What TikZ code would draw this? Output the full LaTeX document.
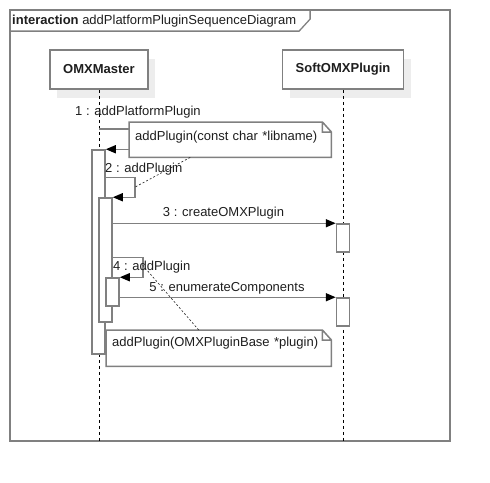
\documentclass[tikz,border=0pt]{standalone}
\usepackage{fontspec}
\setmainfont{Liberation Sans}
\usetikzlibrary{arrows.meta,shadows}
\definecolor{linegray}{RGB}{128,128,128}
\definecolor{textgray}{RGB}{30,30,30}
\begin{document}
\begin{tikzpicture}[x=1pt, y=-1pt, font=\fontsize{13}{15}\selectfont, text=textgray,
    interaction/.style ={rectangle, draw=linegray, line width=1.8pt, inner sep=0pt},
    participant/.style ={rectangle, draw=linegray, line width=1.6pt, fill=white, minimum height=39pt,
      font=\fontsize{13}{15}\selectfont\bfseries,
      drop shadow={shadow xshift=7pt, shadow yshift=-9pt, fill=black!7, opacity=1}},
    activation/.style ={rectangle, draw=linegray, line width=1.5pt, fill=white, minimum width=13pt, inner sep=0pt},
    lifeline/.style ={draw=black, line width=0.9pt, dash pattern=on 3pt off 3pt},
    message/.style ={draw=linegray, line width=1.5pt, -{Triangle[length=10pt,width=8pt,black]}},
    msglabel/.style ={inner sep=0pt},
    note/.style ={rectangle, fill=white, anchor=north west, inner xsep=6pt, inner ysep=0pt, align=left},
    notebox/.style ={draw=linegray, line width=1.5pt},
    noteline/.style ={draw=textgray, line width=0.6pt, dash pattern=on 2pt off 2pt}]
   \useasboundingbox (0,0) rectangle (490,482);

   \node[interaction, minimum width=440pt, minimum height=431pt] (Frame) at (230,225.5) {};
   \draw[draw=linegray, line width=1.3pt] ([yshift=-22pt]Frame.north west) -- ++(290,0) -- ++(11,-12) -- ++(0,-10);
   \node[msglabel, anchor=west] (Title) at (12,21) {\textbf{interaction} addPlatformPluginSequenceDiagram};

   \node[participant, minimum width=98pt] (Master) at (99,69.5) {OMXMaster};
   \node[participant, minimum width=121pt] (Soft) at (343,69.5) {SoftOMXPlugin};
   \coordinate (MasterEnd) at (99,441);
   \coordinate (SoftEnd) at (343,441);
   \draw[lifeline] (Master) -- (MasterEnd);
   \draw[lifeline] (Soft) -- (SoftEnd);

   \node[activation, minimum height=204pt] (A1) at (98.5,252) {};
   \node[activation, minimum height=124pt] (A2) at (105.5,260) {};
   \node[activation, minimum height=28pt] (A3) at (112.5,292) {};
   \node[activation, minimum height=28pt] (S1) at (343,238) {};
   \node[activation, minimum height=28pt] (S2) at (343,312) {};

   \coordinate (Found) at (99,129);
   \draw[message] (Found) -- ++(32,0) |- (A1.north east);
   \draw[message] ([yshift=-28pt]A1.north east) -- ++(29,0) |- (A2.north east) coordinate[pos=0.25] (Loop2);
   \draw[message] (A2.east |- S1.north west) -- (S1.north west);
   \draw[message] ([yshift=-60pt]A2.north east) -- ++(30,0) |- (A3.north east) coordinate[pos=0.2] (Loop4);
   \draw[message] (A3.east |- S2.north west) -- (S2.north west);

   \node[msglabel, anchor=west] (M1) at (75,112) {1 : addPlatformPlugin};
   \node[msglabel, anchor=west] (M2) at (105,169) {2 : addPlugin};
   \node[msglabel] (M3) at (223.5,213) {3 : createOMXPlugin};
   \node[msglabel, anchor=west] (M4) at (113,267) {4 : addPlugin};
   \node[msglabel] (M5) at (227,288) {5 : enumerateComponents};

   \node[note, text width=190pt, text height=18.5pt, text depth=16.5pt] (Note1) at (129,122) {addPlugin(const char *libname)};
   \draw[notebox] (Note1.north west) -- ([xshift=-9pt]Note1.north east) -- ([yshift=-10pt]Note1.north east)
      -- (Note1.south east) -- (Note1.south west) -- cycle
      ([xshift=-9pt]Note1.north east) |- ([yshift=-10pt]Note1.north east);
   \node[note, text width=213pt, text height=16.5pt, text depth=19.5pt] (Note2) at (106,330) {addPlugin(OMXPluginBase *plugin)};
   \draw[notebox] (Note2.north west) -- ([xshift=-9pt]Note2.north east) -- ([yshift=-10pt]Note2.north east)
      -- (Note2.south east) -- (Note2.south west) -- cycle
      ([xshift=-9pt]Note2.north east) |- ([yshift=-10pt]Note2.north east);

   \draw[noteline] ([xshift=-40pt]Note1.south) -- (Loop2);
   \draw[noteline] ([xshift=-20pt]Note2.north) -- (Loop4);
\end{tikzpicture}
\end{document}
